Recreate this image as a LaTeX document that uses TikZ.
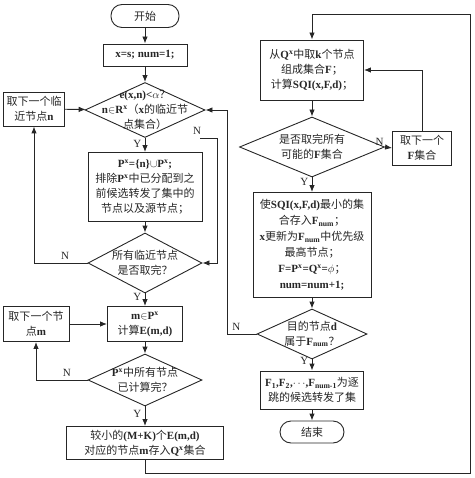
\documentclass[tikz,border=0pt]{standalone}
\usepackage{fontspec}
\setmainfont{Liberation Serif}
\newfontfamily\cjk{Noto Sans CJK SC}[BoldFont={Noto Sans CJK SC}]
\newcommand\zh[1]{{\cjk #1}}
\usetikzlibrary{shapes.geometric,arrows.meta}

\begin{document}
\begin{tikzpicture}[x=1pt,y=-1pt,color=black!85,line width=0.9pt,
  every node/.style={font=\fontsize{11}{15}\selectfont\bfseries},
  yn/.style={font=\fontsize{11}{15}\selectfont},
  box/.style={draw,rectangle,align=center,inner sep=1pt},
  term/.style={draw,rectangle,rounded corners=11pt,inner sep=1pt},
  dec/.style={draw,diamond,inner sep=0pt},
  arr/.style={-{Latex[length=7pt,width=5.5pt]}}]
  \useasboundingbox (0,0) rectangle (474,478);

  % left column
  \node[term, minimum width=68, minimum height=23] (start) at (145,16) {\zh{开始}};
  \node[box, minimum width=84, minimum height=22] (init) at (145,55) {x=s; num=1;};
  \node[dec, minimum width=120, minimum height=55,
    label={[align=center]center:{e(x,n)<$\alpha$\zh{？}\\n$\in$R\textsuperscript{x}\zh{（}x\zh{的临近节}\\\zh{点集合）}}}] (d1) at (145,110) {};
  \node[box, minimum width=61, minimum height=34] (nextn) at (34,109) {\zh{取下一个临}\\\zh{近节点}n};
  \node[box, minimum width=114, minimum height=69] (setP) at (145,187)
    {P\textsuperscript{x}=\{n\}$\cup$P\textsuperscript{x};\\\zh{排除}P\textsuperscript{x}\zh{中已分配到之}\\\zh{前候选转发了集中的}\\\zh{节点以及源节点；}};
  \node[dec, minimum width=114, minimum height=60,
    label={[align=center]center:{\zh{所有临近节点}\\\zh{是否取完？}}}] (d2) at (145,263) {};
  \node[box, minimum width=75, minimum height=35] (calcE) at (145,324) {m$\in$P\textsuperscript{x}\\\zh{计算}E(m,d)};
  \node[box, minimum width=66, minimum height=35] (nextm) at (36,324) {\zh{取下一个节}\\\zh{点}m};
  \node[dec, minimum width=114, minimum height=52,
    label={[align=center]center:{P\textsuperscript{x}\zh{中所有节点}\\\zh{已计算完？}}}] (d3) at (145,380) {};
  \node[box, minimum width=157, minimum height=33] (storeQ) at (145,443)
    {\zh{较小的}(M+K)\zh{个}E(m,d)\\\zh{对应的节点}m\zh{存入}Q\textsuperscript{x}\zh{集合}};

  % right column
  \node[box, minimum width=103, minimum height=60] (pickF) at (312,70)
    {\zh{从}Q\textsuperscript{x}\zh{中取}k\zh{个节点}\\\zh{组成集合}F\zh{；}\\\zh{计算}SQI(x,F,d)\zh{；}};
  \node[dec, minimum width=145, minimum height=60,
    label={[align=center]center:{\zh{是否取完所有}\\\zh{可能的}F\zh{集合}}}] (d5) at (312,147) {};
  \node[box, minimum width=59, minimum height=34] (nextF) at (422,148) {\zh{取下一个}\\F\zh{集合}};
  \node[box, minimum width=118, minimum height=105, font=\fontsize{11}{16}\selectfont\bfseries] (minF) at (312,245)
    {\zh{使}SQI(x,F,d)\zh{最小的集}\\\zh{合存入}F\textsubscript{num}\zh{；}\\x\zh{更新为}F\textsubscript{num}\zh{中优先级}\\\zh{最高节点；}\\F=P\textsuperscript{x}=Q\textsuperscript{x}=$\phi$\zh{；}\\num=num+1;};
  \node[dec, minimum width=110, minimum height=50,
    label={[align=center]center:{\zh{目的节点}d\\\zh{属于}F\textsubscript{num}\zh{？}}}] (d4) at (312,334) {};
  \node[box, minimum width=103, minimum height=38] (result) at (312,390)
    {F\textsubscript{1},F\textsubscript{2},$\cdots$,F\textsubscript{num-1}\zh{为逐}\\\zh{跳的候选转发了集}};
  \node[term, minimum width=64, minimum height=22] (stop) at (312,432) {\zh{结束}};

  \coordinate (d1n) at (200,138);
  \coordinate (br) at (470,473);
  \coordinate (tr) at (470,14);

  % main flow
  \draw[arr] (start) -- (init);
  \draw[arr] (init) -- (d1);
  \draw[arr] (d1) -- node[yn,left,pos=0.4] {Y} (setP);
  \draw[arr] (setP) -- (d2);
  \draw[arr] (d2) -- node[yn,left,pos=0.3] {Y} (calcE);
  \draw[arr] (calcE) -- (d3);
  \draw[arr] (d3) -- node[yn,left,pos=0.4] {Y} (storeQ);
  \draw[arr] (nextn) -- (d1);
  \draw[arr] (nextm) -- (calcE);
  \draw[arr] (d2.west) -| node[yn,above,pos=0.21] {N} (nextn.south);
  \draw[arr] (d3.west) -| node[yn,above,pos=0.2] {N} (nextm.south);
  \draw[arr] (d1n) node[yn,above,xshift=-3pt] {N} -- (217,138) |- (d2.east);
  \draw[arr] (storeQ.south) |- (br) -- (tr) -| (pickF.north);

  \draw[arr] (pickF) -- (d5);
  \draw[arr] (d5.east) -- node[yn,above left,pos=0,inner sep=1pt] {N} (nextF.west);
  \draw[arr] (nextF.north) |- (pickF.east);
  \draw[arr] (d5) -- node[yn,left,pos=0.3] {Y} (minF);
  \draw[arr] (minF) -- (d4);
  \draw[arr] (d4.west) -- node[yn,above,pos=0.7] {N} ++(-29,0) |- (d1.east);
  \draw[arr] (d4) -- node[yn,left,pos=0.1] {Y} (result);
  \draw[arr] (result) -- (stop);
\end{tikzpicture}
\end{document}
